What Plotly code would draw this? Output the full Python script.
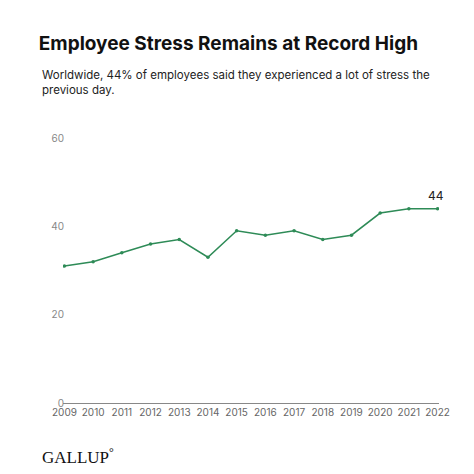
import plotly.graph_objects as go

years = list(range(2009, 2023))
stress = [31, 32, 34, 36, 37, 33, 39, 38, 39, 37, 38, 43, 44, 44]
y_ticks = [0, 20, 40, 60]

fig = go.Figure()
fig.add_trace(go.Scatter(x=years, y=stress, mode="lines+markers",
    line=dict(color="#2e8b57", width=1.5), marker=dict(size=3.5, color="#2e8b57"),
    hoverinfo="skip"))
fig.add_annotation(x=years[-1], y=stress[-1], text=str(stress[-1]), showarrow=False,
    yshift=13, xshift=-2, font=dict(family="Inter", size=12, color="#222"))
fig.update_layout(
    width=474, height=474, plot_bgcolor="white", paper_bgcolor="white",
    margin=dict(l=55, r=43, t=130, b=79, autoexpand=False), showlegend=False,
    title=dict(text="<b>Employee Stress Remains at Record High</b>", x=0.065, xanchor="left",
               y=0.926, yanchor="middle", font=dict(family="Inter", size=19, color="#111")),
    xaxis=dict(range=[2008.95, 2022.05], tickvals=years, showgrid=False, showline=True,
               linecolor="#888", linewidth=1, ticks="", automargin=False,
               tickfont=dict(family="Inter", size=10, color="#666")),
    yaxis=dict(range=[0, 60], tickvals=y_ticks, showgrid=False, zeroline=False, ticks="",
               automargin=False, tickfont=dict(family="Inter", size=10, color="#888"),
               ticklabelstandoff=-2),
)
fig.add_annotation(xref="paper", yref="paper", x=-0.062, y=1.27, xanchor="left", yanchor="top",
    align="left", showarrow=False,
    text="Worldwide, 44% of employees said they experienced a lot of stress the<br>previous day.",
    font=dict(family="Inter", size=11.5, color="#222"))
fig.add_annotation(xref="paper", yref="paper", x=-0.062, y=-0.15, xanchor="left", yanchor="top",
    showarrow=False, text="GALLUP<sup>°</sup>",
    font=dict(family="Liberation Serif", size=17, color="#111"))
fig.write_html("out.html")
